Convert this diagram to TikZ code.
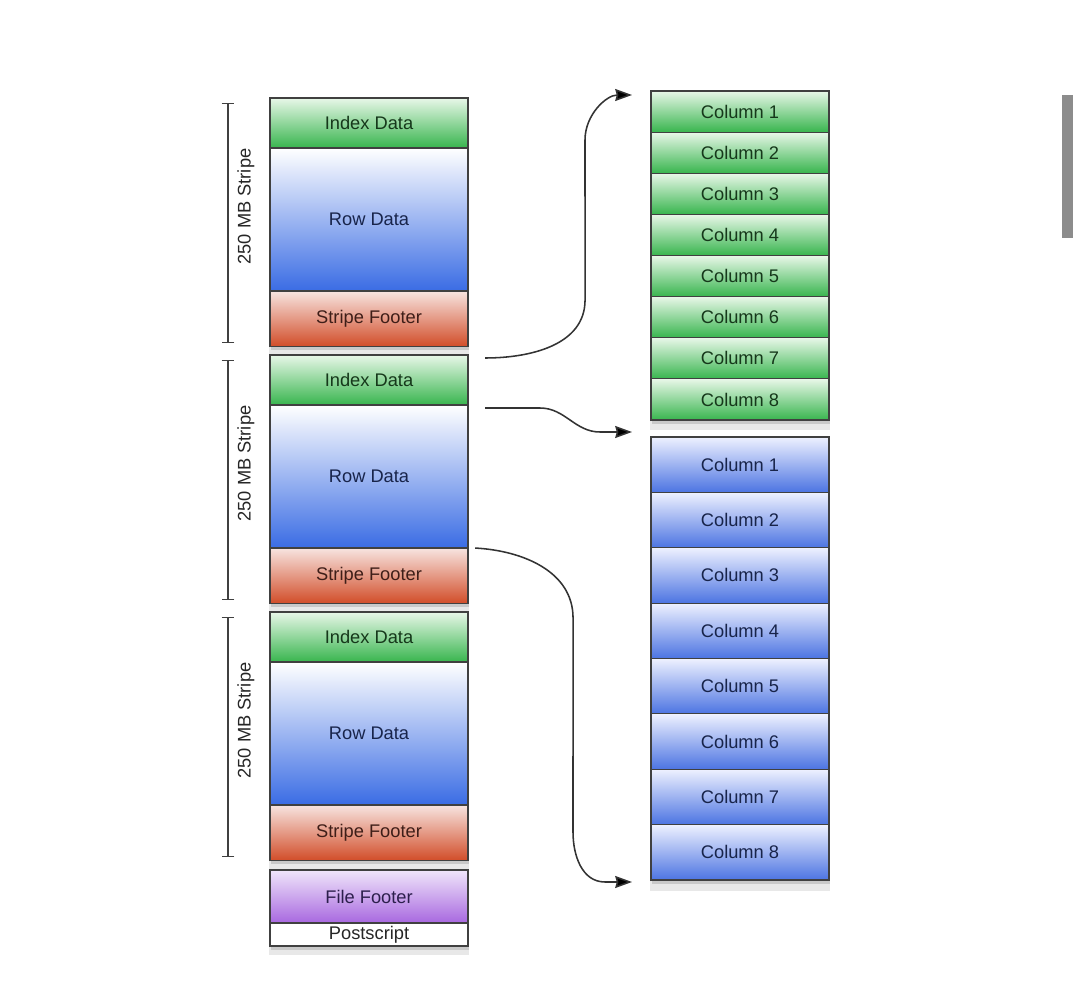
\documentclass[tikz,border=0pt]{standalone}
\usepackage{fontspec}
\setmainfont{Liberation Sans}
\usetikzlibrary{positioning,arrows.meta,calc,fit,backgrounds,shadows}
\definecolor{idxtop}{HTML}{E8F7E8}
\definecolor{idxbot}{HTML}{38B54E}
\definecolor{idxtxt}{HTML}{16381B}
\definecolor{rowbot}{HTML}{3A6CE4}
\definecolor{rowtxt}{HTML}{18244A}
\definecolor{ftrtop}{HTML}{F7E4E0}
\definecolor{ftrbot}{HTML}{D24E2A}
\definecolor{ftrtxt}{HTML}{3E1E18}
\definecolor{fftop}{HTML}{F0E6FA}
\definecolor{ffbot}{HTML}{A868E0}
\definecolor{fftxt}{HTML}{2C1F4C}
\definecolor{coltop}{HTML}{EEF1FF}
\definecolor{colbot}{HTML}{4C74E2}
\definecolor{ink}{HTML}{333333}
\tikzset{
  cell/.style={draw=black!75, line width=0.8pt, outer sep=0pt, inner sep=1pt,
    minimum width=4.95cm, font=\fontsize{13}{15}\selectfont},
  idx/.style={cell, top color=idxtop, bottom color=idxbot, text=idxtxt, minimum height=1.25cm},
  rowbox/.style={cell, top color=white, bottom color=rowbot, text=rowtxt, minimum height=3.575cm},
  ftr/.style={cell, top color=ftrtop, bottom color=ftrbot, text=ftrtxt, minimum height=1.375cm},
  ffoot/.style={cell, top color=fftop, bottom color=ffbot, text=fftxt, minimum height=1.325cm},
  post/.style={cell, fill=white, text=black!85, minimum height=0.575cm, inner sep=0pt},
  gcol/.style={cell, minimum width=4.45cm, minimum height=1.028cm, top color=idxtop, bottom color=idxbot, text=idxtxt},
  bcol/.style={cell, minimum width=4.45cm, minimum height=1.384cm, top color=coltop, bottom color=colbot, text=rowtxt},
  grp/.style={inner sep=0pt, fill=white, draw=black!85, line width=1.1pt,
    drop shadow={opacity=0.18, shadow xshift=0pt, shadow yshift=-6pt, shadow scale=1.01},
    drop shadow={opacity=0.3, shadow xshift=0.5pt, shadow yshift=-3pt}},
  brk/.style={draw=black!75, line width=0.9pt, {Bar[width=0.32cm]}-{Bar[width=0.32cm]}},
  lbl/.style={font=\fontsize{13}{15}\selectfont, text=black!85},
  link/.style={draw=ink, line width=1.1pt, -{Stealth[length=0.42cm, width=0.3cm, inset=0.04cm, fill=black]}}
}
\begin{document}
\begin{tikzpicture}[x=0.025cm, y=-0.025cm]
  \useasboundingbox (0,0) rectangle (1080,1004);
  % stripes
  \foreach \s/\t in {1/98, 2/355, 3/612}{%
    \node[idx, anchor=north west] (idx\s) at (270,\t) {Index Data};
    \node[rowbox, below=0pt of idx\s] (row\s) {Row Data};
    \node[ftr, below=0pt of row\s] (ftr\s) {Stripe Footer};
    \begin{scope}[on background layer]
      \node[grp, fit=(idx\s)(ftr\s)] (grp\s) {};
    \end{scope}
    \draw[brk] ($(idx\s.north west)+(-42,5)$) -- ($(ftr\s.south west)+(-42,-3)$);
    \node[lbl, rotate=90] (lab\s) at ($(row\s.west)+(-24,-13)$) {250 MB Stripe};
  }
  \node[ffoot, anchor=north west] (ff) at (270,870) {File Footer};
  \node[post, below=0pt of ff] (ps) {Postscript};
  \begin{scope}[on background layer]
    \node[grp, fit=(ff)(ps)] (grpf) {};
  \end{scope}
  % columns
  \node[gcol, anchor=north west] (g1) at (651,91) {Column 1};
  \foreach \p [count=\i from 2] in {1,...,7}
    \node[gcol, below=0pt of g\p] (g\i) {Column \i};
  \node[bcol, anchor=north west] (b1) at (651,437) {Column 1};
  \foreach \p [count=\i from 2] in {1,...,7}
    \node[bcol, below=0pt of b\p] (b\i) {Column \i};
  \begin{scope}[on background layer]
    \node[grp, fit=(g1)(g8)] (grpg) {};
    \node[grp, fit=(b1)(b8)] (grpb) {};
  \end{scope}
  % arrows
  \coordinate (a1s) at ($(idx2.north east)+(17,3)$);
  \coordinate (a1e) at ($(g1.north west)+(-19,4)$);
  \coordinate (a2s) at ($(idx2.south east)+(17,3)$);
  \coordinate (a2e) at ($(b1.north west)+(-19,-5)$);
  \coordinate (a3s) at ($(row2.south east)+(7,0)$);
  \coordinate (a3e) at ($(b8.south west)+(-19,2)$);
  \draw[link] (a1s) to[out=0,in=-90] ($(a1s)+(100,-58)$) -- ($(a1e)+(-47,45)$) to[out=90,in=180] (a1e);
  \draw[link] (a2s) -- ++(55,0) to[out=0,in=180] ($(a2e)+(-32,0)$) -- (a2e);
  \draw[link] (a3s) to[out=-3,in=90] ($(a3s)+(98,70)$) -- ($(a3e)+(-59,-50)$) to[out=-90,in=180] ($(a3e)+(-27,0)$) -- (a3e);
  % scroll bar
  \fill[black!45] (1062,95) rectangle (1073,238);
\end{tikzpicture}
\end{document}
